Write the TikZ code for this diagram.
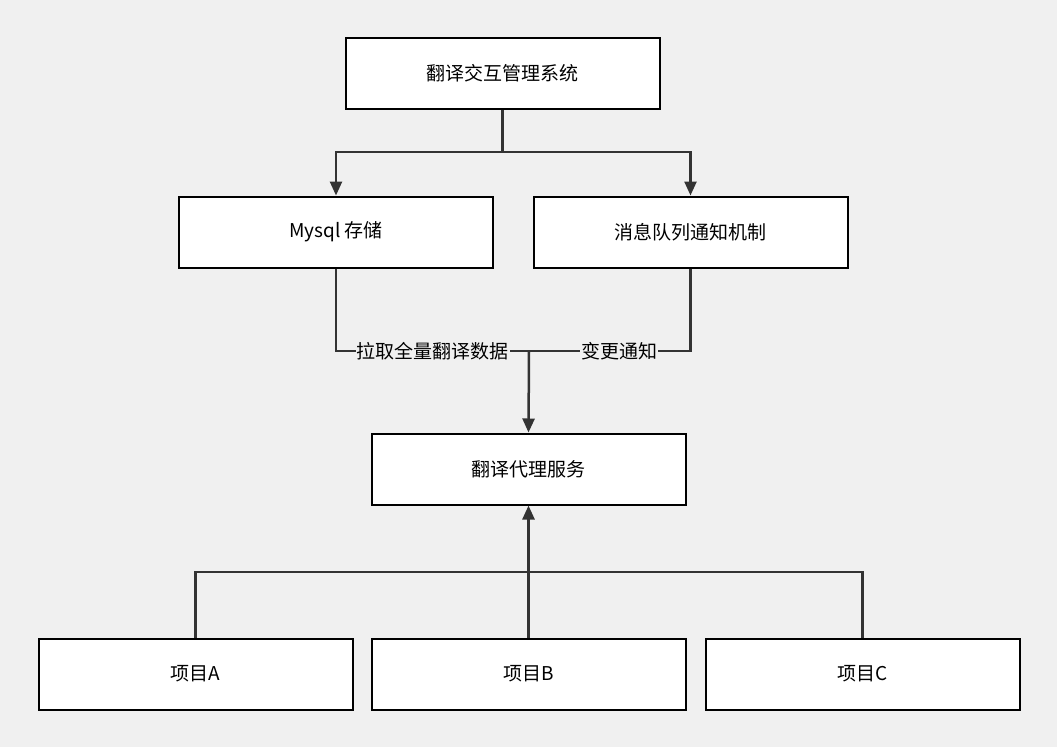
\documentclass[tikz,border=0pt]{standalone}
\usepackage{fontspec}
\setmainfont{Noto Sans CJK SC}
\usetikzlibrary{arrows.meta}
\definecolor{bg}{HTML}{F0F0F0}
\definecolor{ln}{HTML}{333333}
\begin{document}
\begin{tikzpicture}[x=1pt,y=-1pt,
  box/.style={draw=black,line width=2pt,fill=white,minimum width=314pt,minimum height=71pt,inner sep=0pt,font=\fontsize{19}{22}\selectfont},
  con/.style={draw=ln,line width=2.5pt},
  arr/.style={con,-{Triangle[length=14pt,width=12pt]}},
  lab/.style={fill=bg,inner sep=1pt,font=\fontsize{19}{21}\selectfont}]
\fill[bg] (0,0) rectangle (1057,747);
\useasboundingbox (0,0) rectangle (1057,747);
\node[box] (top) at (502.5,73.5) {翻译交互管理系统};
\node[box] (my) at (336,232) {Mysql 存储};
\node[box] (mq) at (690.5,232) {消息队列通知机制};
\node[box] (px) at (528.5,469) {翻译代理服务};
\node[box] (a) at (195.5,674) {项目A};
\node[box] (b) at (528.5,674) {项目B};
\node[box] (c) at (862.5,674) {项目C};
\coordinate (t1) at (502.5,152);
\coordinate (m1) at (529,351);
\coordinate (b1) at (529,572);
\draw[con] (top.south) -- (t1);
\draw[arr] (t1) -| (my.north);
\draw[arr] (t1) -| (mq.north);
\draw[con] (my.south) |- node[lab,pos=0.75]{拉取全量翻译数据} (m1);
\draw[con] (mq.south) |- node[lab,pos=0.72]{变更通知} (m1);
\draw[arr] (m1) -- (px.north);
\draw[con] (a.north) |- (b1);
\draw[con] (c.north) |- (b1);
\draw[arr] (b.north) -- (px.south);
\end{tikzpicture}
\end{document}
